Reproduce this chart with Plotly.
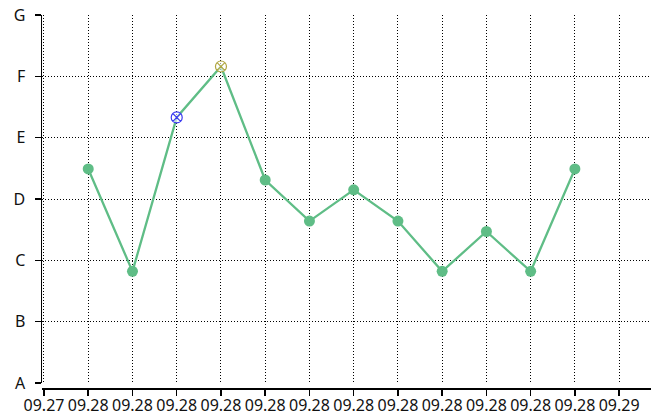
import plotly.graph_objects as go

tick_labels = ["09.27", "09.28", "09.28", "09.28", "09.28", "09.28", "09.28",
               "09.28", "09.28", "09.28", "09.28", "09.28", "09.28", "09.29"]
y_labels = ["A", "B", "C", "D", "E", "F", "G"]
x_vals = [1, 2, 3, 4, 5, 6, 7, 8, 9, 10, 11, 12]
y_vals = [3.49, 1.82, 4.33, 5.16, 3.31, 2.64, 3.15, 2.64, 1.82, 2.47, 1.82, 3.49]
special_idx = [2, 3]
special_colors = ["#3b3bf0", "#b0a640"]

GREEN = "#5fbd86"
font = dict(family="Noto Sans", size=16, color="#111")

fig = go.Figure()
fig.add_trace(go.Scatter(
    x=x_vals, y=y_vals, mode="lines+markers",
    line=dict(color=GREEN, width=2.3),
    marker=dict(color=[GREEN if i not in special_idx else "rgba(0,0,0,0)" for i in range(len(x_vals))],
                size=11, line=dict(width=0)),
    showlegend=False, hoverinfo="skip", cliponaxis=False))
for i, c in zip(special_idx, special_colors):
    fig.add_trace(go.Scatter(
        x=[x_vals[i]], y=[y_vals[i]], mode="markers",
        marker=dict(symbol="circle-x", size=11, color="rgba(255,255,255,0.6)",
                    line=dict(color=c, width=1.2)),
        showlegend=False, hoverinfo="skip"))

fig.update_layout(
    width=661, height=416,
    margin=dict(l=42, r=10, t=15, b=28, autoexpand=False),
    plot_bgcolor="white", paper_bgcolor="white",
    font=font,
    xaxis=dict(
        range=[-0.045, 13.72],
        tickmode="array", tickvals=list(range(len(tick_labels))), ticktext=tick_labels,
        showgrid=True, gridcolor="black", griddash="1px,2px", gridwidth=1,
        showline=True, linecolor="black", linewidth=1.5,
        ticks="outside", ticklen=6, tickcolor="black", tickwidth=1.5,
        anchor="free", position=0, zeroline=False, tickfont=font,
        tickangle=0, automargin=False, ticklabelstandoff=-4,
    ),
    yaxis=dict(
        domain=[0.0134, 1],
        range=[0, 6],
        tickmode="array", tickvals=list(range(len(y_labels))), ticktext=y_labels,
        showgrid=True, gridcolor="black", griddash="1px,2px", gridwidth=1,
        showline=True, linecolor="black", linewidth=1.5,
        ticks="outside", ticklen=6, tickcolor="black", tickwidth=1.5,
        zeroline=False, tickfont=font, ticklabelstandoff=6, automargin=False,
    ),
)

fig.write_html("out.html", config={"displayModeBar": False, "staticPlot": True},
               post_script="document.body.style.margin='0';document.body.style.overflow='hidden';")
